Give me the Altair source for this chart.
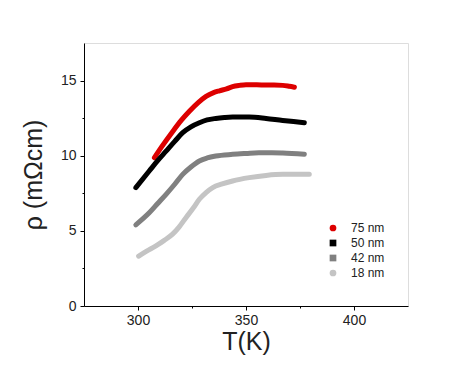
import altair as alt
import pandas as pd

# data
t75 = [307.6, 311.0, 316.0, 320.0, 323.8, 328.0, 331.5, 335.0, 337.7, 341.0, 343.8, 347.0, 350.0, 355.0, 359.3, 363.0, 367.0, 370.0, 372.4]
r75 = [9.87, 10.6, 11.6, 12.35, 12.96, 13.55, 13.95, 14.2, 14.32, 14.45, 14.6, 14.68, 14.72, 14.72, 14.7, 14.7, 14.68, 14.62, 14.56]

t50 = [299.0, 305.2, 309.0, 313.0, 317.0, 320.7, 324.5, 328.4, 332.0, 336.0, 340.0, 343.8, 351.5, 359.3, 367.0, 372.0, 377.0]
r50 = [7.88, 8.98, 9.65, 10.3, 10.95, 11.53, 11.92, 12.19, 12.38, 12.48, 12.54, 12.57, 12.57, 12.48, 12.35, 12.28, 12.2]

t42 = [299.0, 305.2, 309.0, 313.0, 317.0, 320.7, 324.5, 328.4, 332.0, 336.0, 343.8, 350.0, 356.0, 362.0, 367.0, 377.0]
r42 = [5.4, 6.2, 6.8, 7.43, 8.1, 8.76, 9.25, 9.65, 9.85, 9.98, 10.09, 10.15, 10.2, 10.2, 10.18, 10.09]

t18 = [300.3, 304.0, 308.3, 312.0, 316.0, 319.0, 322.2, 325.5, 328.4, 331.5, 334.6, 339.0, 343.8, 351.5, 359.3, 367.0, 379.3]
r18 = [3.32, 3.65, 4.0, 4.35, 4.78, 5.25, 5.88, 6.5, 7.1, 7.55, 7.88, 8.12, 8.32, 8.54, 8.69, 8.76, 8.76]

series = ["75 nm", "50 nm", "42 nm", "18 nm"]
colors = ["#dd0000", "#000000", "#808080", "#c4c4c4"]
shapes = ["circle", "square", "square", "circle"]

x_ticks = [300, 325, 350, 375, 400]
y_ticks = [0, 2.5, 5, 7.5, 10, 12.5, 15]

rows = []
for name, ts, rs in zip(series, [t75, t50, t42, t18], [r75, r50, r42, r18]):
    for i, (t, r) in enumerate(zip(ts, rs)):
        rows.append({"series": name, "T": t, "rho": r, "i": i})
df = pd.DataFrame(rows)

FONT = "Liberation Sans"

x = alt.X("T:Q", scale=alt.Scale(domain=[275, 425], nice=False, zero=False),
          axis=alt.Axis(title="T(K)", values=x_ticks,
                        labelExpr="datum.value % 50 === 0 ? datum.label : ''",
                        tickSize={"condition": {"test": "datum.value % 50 === 0", "value": 4}, "value": 2},
                        labelFontSize=14, titleFontSize=25, titleFontWeight="normal",
                        labelPadding=3, titlePadding=2, grid=False,
                        domainColor="black", tickColor="black", labelColor="#222222", titleColor="#222222"))
y = alt.Y("rho:Q", scale=alt.Scale(domain=[0, 17.5], nice=False),
          axis=alt.Axis(title="ρ (mΩcm)", values=y_ticks,
                        labelExpr="datum.value % 5 === 0 ? datum.label : ''",
                        tickSize={"condition": {"test": "datum.value % 5 === 0", "value": 4}, "value": 2},
                        labelFontSize=14, titleFontSize=25, titleFontWeight="normal",
                        labelPadding=4, titlePadding=14, grid=False,
                        domainColor="black", tickColor="black", labelColor="#222222", titleColor="#222222"))

leg = dict(title=None, orient="none", legendX=243, legendY=179,
           labelFontSize=12, symbolSize=45, rowPadding=3, symbolOpacity=1,
           labelOffset=12, padding=0, symbolStrokeWidth=0, labelColor="#222222")
color = alt.Color("series:N", scale=alt.Scale(domain=series, range=colors), legend=alt.Legend(**leg))
shape = alt.Shape("series:N", scale=alt.Scale(domain=series, range=shapes), legend=alt.Legend(**leg))

pts = alt.Chart(df).mark_point(filled=True, size=8, opacity=1).encode(x=x, y=y, color=color, shape=shape)
lines = alt.Chart(df).mark_line(strokeWidth=5, strokeCap="round", strokeJoin="round",
                                interpolate="monotone").encode(
    x=x, y=y, color=alt.Color("series:N", scale=alt.Scale(domain=series, range=colors), legend=None),
    detail="series:N", order="i:Q")

chart = alt.layer(pts, lines).properties(
    width=324, height=263,
    autosize=alt.AutoSizeParams(type="none"),
    padding={"left": 76, "top": 35, "right": 58, "bottom": 52},
).configure_view(stroke="black", strokeWidth=1).configure(font=FONT)

chart.save("out.html", embed_options={"renderer": "svg", "actions": False})
